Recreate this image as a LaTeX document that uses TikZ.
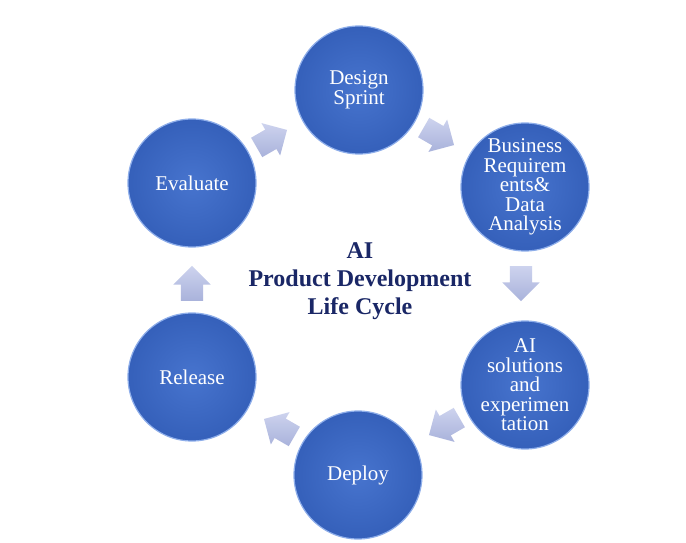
\documentclass[tikz,border=0pt]{standalone}
\usepackage{fontspec}
\setmainfont{Liberation Serif}
\usetikzlibrary{shapes.arrows}
\definecolor{blueIn}{HTML}{4774CE}
\definecolor{blueOut}{HTML}{3560BA}
\definecolor{rimBlue}{HTML}{8EAEEA}
\definecolor{arrowTop}{HTML}{CDD3EE}
\definecolor{arrowBot}{HTML}{A9B2DB}
\definecolor{titleNavy}{HTML}{1A2766}
\begin{document}
\begin{tikzpicture}[x=1pt,y=-1pt,
  stage/.style={circle, minimum size=128pt, inner sep=0pt,
    inner color=blueIn, outer color=blueOut, draw=rimBlue, line width=1.2pt,
    text=white, align=center, font=\fontsize{21}{19.5}\selectfont},
  flow/.style={single arrow, draw=none, minimum height=35pt,
    single arrow head extend=7.5pt, inner xsep=0pt, inner ysep=11pt,
    top color=arrowTop, bottom color=arrowBot},
  title/.style={text=titleNavy, align=center, font=\fontsize{24}{28}\selectfont\bfseries}]
\useasboundingbox[fill=white] (0,0) rectangle (686,543);

\node[stage] (design) at (359,90) {Design\\Sprint};
\node[stage] (business) at (525,187) {Business\\Requirem\\ents\&\\Data\\Analysis};
\node[stage] (aisol) at (525,385) {AI\\solutions\\and\\experimen\\tation};
\node[stage] (deploy) at (358,475) {Deploy};
\node[stage] (release) at (192,377) {Release};
\node[stage] (evaluate) at (192,183) {Evaluate};

\node[title] (center) at (360,281) {AI\\Product Development\\Life Cycle};

\node[flow, rotate=30] (a1) at (267,141.5) {};
\node[flow, rotate=-30] (a2) at (434,133.5) {};
\node[flow, rotate=-90] (a3) at (521,278) {};
\node[flow, rotate=-150] (a4) at (449,423.5) {};
\node[flow, rotate=150] (a5) at (284,430.5) {};
\node[flow, rotate=90] (a6) at (192,289) {};
\end{tikzpicture}
\end{document}
